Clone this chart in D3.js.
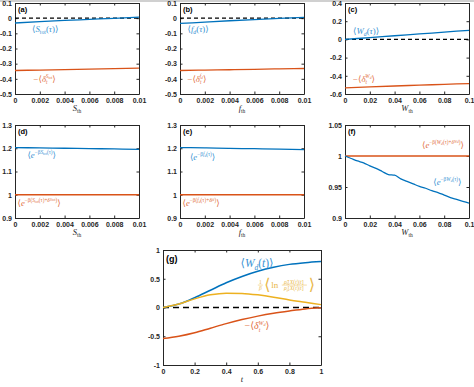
<!DOCTYPE html>
<html>
<head>
<meta charset="utf-8">
<script src="https://cdn.jsdelivr.net/npm/d3@7"></script>
<style>
  body { margin: 0; background: #fff; }
  svg { display: block; }
  .tick text { font-family: "Liberation Sans", Arial, sans-serif; font-size: 7px; font-weight: bold; fill: #262626; }
  .domain, .tick line { stroke: #262626; }
</style>
</head>
<body>
<script>
// x values
const sthX = [0, 0.002, 0.004, 0.006, 0.008, 0.01];
const wthX = [0, 0.02, 0.04, 0.06, 0.08, 0.1];
const fX = [0, 0.005, 0.01, 0.015, 0.02, 0.025, 0.03, 0.035, 0.04, 0.045, 0.05, 0.055, 0.06, 0.065, 0.07, 0.075, 0.08, 0.085, 0.09, 0.095, 0.1];
const gT = [0, 0.1, 0.2, 0.3, 0.4, 0.5, 0.6, 0.7, 0.8, 0.9, 1];

// series
const aStot = [-0.032, -0.023, -0.015, -0.008, -0.001, 0.007];
const aDeltaStot = [-0.345, -0.342, -0.339, -0.336, -0.333, -0.330];
const bFd = [-0.035, -0.026, -0.017, -0.009, -0.002, 0.005];
const bDeltaFd = [-0.345, -0.342, -0.340, -0.337, -0.334, -0.332];
const cWd = [0, 0.02, 0.04, 0.06, 0.08, 0.10];
const cDeltaWd = [-0.532, -0.522, -0.512, -0.503, -0.494, -0.485];
const dExpStot = [1.203, 1.2015, 1.2, 1.1985, 1.197, 1.195];
const dExpStotDelta = [1, 1, 1, 1, 1, 1];
const eExpFd = [1.203, 1.2015, 1.1995, 1.198, 1.196, 1.194];
const eExpFdDelta = [1, 1, 1, 1, 1, 1];
const fExpWd = [1.0, 0.996, 0.992, 0.989, 0.984, 0.98, 0.975, 0.970, 0.969, 0.963, 0.959, 0.955, 0.951, 0.948, 0.944, 0.941, 0.937, 0.933, 0.930, 0.927, 0.924];
const fExpWdDelta = [1, 1, 1, 1, 1, 1, 1, 1, 1, 1, 1, 1, 1, 1, 1, 1, 1, 1, 1, 1, 1];
const gWd = [0, 0.06, 0.17, 0.30, 0.43, 0.54, 0.63, 0.70, 0.75, 0.78, 0.80];
const gLn = [0, 0.06, 0.15, 0.22, 0.25, 0.245, 0.22, 0.18, 0.13, 0.09, 0.05];
const gDelta = [-0.54, -0.50, -0.44, -0.36, -0.28, -0.21, -0.15, -0.10, -0.06, -0.025, -0.005];

// ticks
const sthTicks = [0, 0.002, 0.004, 0.006, 0.008, 0.01];
const wthTicks = [0, 0.02, 0.04, 0.06, 0.08, 0.1];
const abTicksY = [-0.5, -0.4, -0.3, -0.2, -0.1, 0, 0.1];
const cTicksY = [-0.6, -0.4, -0.2, 0, 0.2, 0.4];
const deTicksY = [0.9, 1, 1.1, 1.2, 1.3];
const fTicksY = [0.9, 0.95, 1, 1.05];
const gTicksX = [0, 0.2, 0.4, 0.6, 0.8, 1];
const gTicksY = [-1, -0.5, 0, 0.5, 1];

const BLUE = "#0072BD", ORANGE = "#D95319", YELLOW = "#EDB120";
const BLUE_T = "#3a93d3", ORANGE_T = "#e2703f", YELLOW_T = "#e9b74a";
const LS = 8.8; // label size in small panels

const svg = d3.select("body").append("svg").attr("width", 474).attr("height", 387);
svg.append("rect").attr("width", 474).attr("height", 2).attr("fill", "#d0d0d0");

const fmt = d => String(+d.toFixed(4));

// math-ish text: parts [text, yOffset(em up), scale, italic, dx(em)]
function mathText(g, x, y, parts, size, color, anchor) {
  const t = g.append("text").attr("x", x).attr("y", y)
    .attr("font-family", "'Liberation Serif', 'DejaVu Serif', serif")
    .attr("font-size", size).attr("fill", color)
    .attr("text-anchor", anchor || "start");
  let cur = 0;
  parts.forEach(p => {
    const off = p[1] || 0, k = p[2] || 1;
    const sp = t.append("tspan").text(p[0])
      .attr("dy", (-(off - cur) * size).toFixed(2))
      .attr("font-size", size * k)
      .attr("font-style", p[3] ? "italic" : "normal");
    if (p[4]) sp.attr("dx", p[4] * size);
    cur = off;
  });
  return t;
}

const SUB = [-0.25, 0.65];

function panel(cfg) {
  const w = cfg.x1 - cfg.x0, h = cfg.y1 - cfg.y0;
  const g = svg.append("g").attr("transform", `translate(${cfg.x0},${cfg.y0})`);
  const x = d3.scaleLinear().domain(cfg.xd).range([0, w]);
  const y = d3.scaleLinear().domain(cfg.yd).range([h, 0]);

  g.append("g").attr("transform", `translate(0,${h})`)
    .call(d3.axisBottom(x).tickValues(cfg.xt).tickFormat(fmt).tickSizeInner(-2.5).tickSizeOuter(0).tickPadding(4));
  g.append("g")
    .call(d3.axisTop(x).tickValues(cfg.xt).tickFormat("").tickSizeInner(-2.5).tickSizeOuter(0));
  g.append("g")
    .call(d3.axisLeft(y).tickValues(cfg.yt).tickFormat(fmt).tickSizeInner(-2.5).tickSizeOuter(0).tickPadding(3));
  g.append("g").attr("transform", `translate(${w},0)`)
    .call(d3.axisRight(y).tickValues(cfg.yt).tickFormat("").tickSizeInner(-2.5).tickSizeOuter(0));

  if (cfg.zero) {
    g.append("line").attr("x1", 0).attr("x2", w).attr("y1", y(0)).attr("y2", y(0))
      .attr("stroke", "#000").attr("stroke-width", 1.3).attr("stroke-dasharray", cfg.dash || "4,3");
  }
  cfg.series.forEach(s => {
    const line = d3.line().x((d, i) => x(s.x[i])).y(d => y(d)).curve(d3.curveMonotoneX);
    g.append("path").datum(s.y).attr("d", line).attr("fill", "none")
      .attr("stroke", s.c).attr("stroke-width", cfg.lw || 1.3);
  });
  g.append("text").attr("x", 3).attr("y", cfg.labSize ? 12 : 9)
    .attr("font-family", "'Liberation Sans', Arial, sans-serif").attr("font-weight", "bold")
    .attr("font-size", cfg.labSize || 7.5).attr("fill", "#000").text(cfg.label);

  // x label
  mathText(g, w / 2, h + 17, cfg.xlab, 8.5, "#262626", "middle");
  return { g, x, y };
}

const r1 = [3, 94], r2 = [125, 218];

// (a)
let p = panel({ x0: 15, x1: 139, y0: r1[0], y1: r1[1], xd: [0, 0.01], yd: [-0.5, 0.1],
  xt: sthTicks, yt: abTicksY, zero: true, label: "(a)",
  series: [{ x: sthX, y: aStot, c: BLUE }, { x: sthX, y: aDeltaStot, c: ORANGE }],
  xlab: [["S", 0, 1, true], ["th", -0.25, 0.65]] });
mathText(p.g, p.x(0.00137), p.y(-0.071) + 3, [["⟨"], ["S", 0, 1, true], ["tot", ...SUB], ["(", 0], ["τ", 0, 1, true], [")⟩", 0]], LS, BLUE_T);
mathText(p.g, p.x(0.0015), p.y(-0.40) + 3, [["−⟨"], ["δ", 0, 1, true], ["t", -0.25, 0.6, true], ["S", 0.42, 0.6, true, -0.2], ["tot", 0.3, 0.42], ["⟩", 0]], LS, ORANGE_T);

// (b)
p = panel({ x0: 180, x1: 304, y0: r1[0], y1: r1[1], xd: [0, 0.01], yd: [-0.5, 0.1],
  xt: sthTicks, yt: abTicksY, zero: true, label: "(b)",
  series: [{ x: sthX, y: bFd, c: BLUE }, { x: sthX, y: bDeltaFd, c: ORANGE }],
  xlab: [["f", 0, 1, true], ["th", -0.25, 0.65]] });
mathText(p.g, p.x(0.0006), p.y(-0.071) + 3, [["⟨"], ["f", 0, 1, true], ["d", -0.25, 0.65, true], ["(", 0], ["τ", 0, 1, true], [")⟩", 0]], LS, BLUE_T);
mathText(p.g, p.x(0.0006), p.y(-0.40) + 3, [["−⟨"], ["δ", 0, 1, true], ["t", -0.25, 0.6, true], ["f", 0.42, 0.6, true, -0.2], ["d", 0.3, 0.42, true], ["⟩", 0]], LS, ORANGE_T);

// (c)
p = panel({ x0: 345, x1: 469, y0: r1[0], y1: r1[1], xd: [0, 0.1], yd: [-0.6, 0.4],
  xt: wthTicks, yt: cTicksY, zero: true, label: "(c)",
  series: [{ x: wthX, y: cWd, c: BLUE }, { x: wthX, y: cDeltaWd, c: ORANGE }],
  xlab: [["W", 0, 1, true], ["th", -0.25, 0.65]] });
mathText(p.g, p.x(0.0065), p.y(0.092) + 3, [["⟨"], ["W", 0, 1, true], ["d", -0.25, 0.65, true], ["(", 0], ["τ", 0, 1, true], [")⟩", 0]], LS, BLUE_T);
mathText(p.g, p.x(0.0065), p.y(-0.435) + 3, [["−⟨"], ["δ", 0, 1, true], ["t", -0.25, 0.6, true], ["W", 0.42, 0.6, true, -0.2], ["d", 0.3, 0.42, true], ["⟩", 0]], LS, ORANGE_T);

// (d)
p = panel({ x0: 15, x1: 139, y0: r2[0], y1: r2[1], xd: [0, 0.01], yd: [0.9, 1.3],
  xt: sthTicks, yt: deTicksY, label: "(d)",
  series: [{ x: sthX, y: dExpStot, c: BLUE }, { x: sthX, y: dExpStotDelta, c: ORANGE }],
  xlab: [["S", 0, 1, true], ["th", -0.25, 0.65]] });
mathText(p.g, p.x(0.001), p.y(1.171) + 3, [["⟨"], ["e", 0, 1, true], ["−β", 0.42, 0.6], ["S", 0.42, 0.6, true], ["tot", 0.3, 0.42], ["(τ)", 0.42, 0.6], ["⟩", 0]], LS, BLUE_T);
mathText(p.g, p.x(0.0002), p.y(0.965) + 3, [["⟨"], ["e", 0, 1, true], ["−β(", 0.42, 0.6], ["S", 0.42, 0.6, true], ["tot", 0.3, 0.42], ["(τ)+", 0.42, 0.6], ["δ", 0.42, 0.6, true], ["S", 0.6, 0.42, true], ["tot", 0.6, 0.4], [")", 0.42, 0.6], ["⟩", 0]], LS, ORANGE_T);

// (e)
p = panel({ x0: 180, x1: 304, y0: r2[0], y1: r2[1], xd: [0, 0.01], yd: [0.9, 1.3],
  xt: sthTicks, yt: deTicksY, label: "(e)",
  series: [{ x: sthX, y: eExpFd, c: BLUE }, { x: sthX, y: eExpFdDelta, c: ORANGE }],
  xlab: [["f", 0, 1, true], ["th", -0.25, 0.65]] });
mathText(p.g, p.x(0.0008), p.y(1.162) + 3, [["⟨"], ["e", 0, 1, true], ["−β", 0.42, 0.6], ["f", 0.42, 0.6, true], ["d", 0.3, 0.42, true], ["(τ)", 0.42, 0.6], ["⟩", 0]], LS, BLUE_T);
mathText(p.g, p.x(0.0002), p.y(0.965) + 3, [["⟨"], ["e", 0, 1, true], ["−β(", 0.42, 0.6], ["f", 0.42, 0.6, true], ["d", 0.3, 0.42, true], ["(τ)+", 0.42, 0.6], ["δ", 0.42, 0.6, true], ["f", 0.6, 0.42, true], ["d", 0.6, 0.4, true], [")", 0.42, 0.6], ["⟩", 0]], LS, ORANGE_T);

// (f)
p = panel({ x0: 345, x1: 469, y0: r2[0], y1: r2[1], xd: [0, 0.1], yd: [0.9, 1.05],
  xt: wthTicks, yt: fTicksY, label: "(f)",
  series: [{ x: fX, y: fExpWdDelta, c: ORANGE }, { x: fX, y: fExpWd, c: BLUE }],
  xlab: [["W", 0, 1, true], ["th", -0.25, 0.65]] });
mathText(p.g, p.x(0.096), p.y(1.018) + 3, [["⟨"], ["e", 0, 1, true], ["−β(", 0.42, 0.6], ["W", 0.42, 0.6, true], ["d", 0.3, 0.42, true], ["(τ)+", 0.42, 0.6], ["δ", 0.42, 0.6, true], ["W", 0.6, 0.42, true], ["d", 0.6, 0.4, true], [")", 0.42, 0.6], ["⟩", 0]], LS, ORANGE_T, "end");
mathText(p.g, p.x(0.094), p.y(0.958) + 3, [["⟨"], ["e", 0, 1, true], ["−β", 0.42, 0.6], ["W", 0.42, 0.6, true], ["d", 0.3, 0.42, true], ["(τ)", 0.42, 0.6], ["⟩", 0]], LS, BLUE_T, "end");

// (g)
p = panel({ x0: 163, x1: 321, y0: 250, y1: 365, xd: [0, 1], yd: [-1, 1],
  xt: gTicksX, yt: gTicksY, zero: true, dash: "6,4", label: "(g)", labSize: 9, lw: 1.5,
  series: [{ x: gT, y: gWd, c: BLUE }, { x: gT, y: gLn, c: YELLOW }, { x: gT, y: gDelta, c: ORANGE }],
  xlab: [["t", 0, 1, true]] });
mathText(p.g, p.x(0.595), p.y(0.77) + 4, [["⟨"], ["W", 0, 1, true], ["d", -0.25, 0.65, true], ["(", 0], ["t", 0, 1, true], [")⟩", 0]], 11.5, BLUE_T, "middle");
mathText(p.g, p.x(0.595), p.y(-0.32) + 3.5, [["−⟨"], ["δ", 0, 1, true], ["t", -0.25, 0.6, true], ["W", 0.42, 0.6, true, -0.2], ["d", 0.3, 0.42, true], ["⟩", 0]], 10, ORANGE_T, "middle");

// yellow label: 1/β < ln frac >
{
  const lx = p.x(0.60), ly = p.y(0.39);
  const yl = p.g.append("g").attr("transform", `translate(${lx},${ly})`);
  const ff = "'Liberation Serif', 'DejaVu Serif', serif";
  yl.append("text").attr("x", 2.5).attr("y", -1.5).attr("font-size", 5.5).attr("font-family", ff).attr("fill", YELLOW_T).attr("text-anchor", "middle").text("1");
  yl.append("line").attr("x1", 0).attr("x2", 5).attr("y1", 0).attr("y2", 0).attr("stroke", YELLOW_T).attr("stroke-width", 0.5);
  yl.append("text").attr("x", 2.5).attr("y", 4.8).attr("font-size", 5.5).attr("font-family", ff).attr("font-style", "italic").attr("fill", YELLOW_T).attr("text-anchor", "middle").text("β");
  yl.append("text").attr("x", 6.5).attr("y", 5).attr("font-size", 16).attr("font-family", ff).attr("fill", YELLOW_T).text("⟨");
  yl.append("text").attr("x", 13.5).attr("y", 3).attr("font-size", 9).attr("font-family", ff).attr("fill", YELLOW_T).text("ln");
  mathText(yl, 36, -1.5, [["ρ̃", 0, 1, true], ["t", -0.25, 0.65, true], ["[", 0], ["X", 0, 1, true], ["(", 0], ["t", 0, 1, true], [")|", 0], ["t", 0, 1, true], ["]", 0]], 5.8, YELLOW_T, "middle");
  yl.append("line").attr("x1", 24).attr("x2", 49).attr("y1", 0).attr("y2", 0).attr("stroke", YELLOW_T).attr("stroke-width", 0.5);
  mathText(yl, 36, 5.2, [["ρ", 0, 1, true], ["t", -0.25, 0.65, true], ["[", 0], ["X", 0, 1, true], ["(", 0], ["t", 0, 1, true], [")|", 0], ["t", 0, 1, true], ["]", 0]], 5.8, YELLOW_T, "middle");
  yl.append("text").attr("x", 51).attr("y", 5).attr("font-size", 16).attr("font-family", ff).attr("fill", YELLOW_T).text("⟩");
}
</script>
</body>
</html>
